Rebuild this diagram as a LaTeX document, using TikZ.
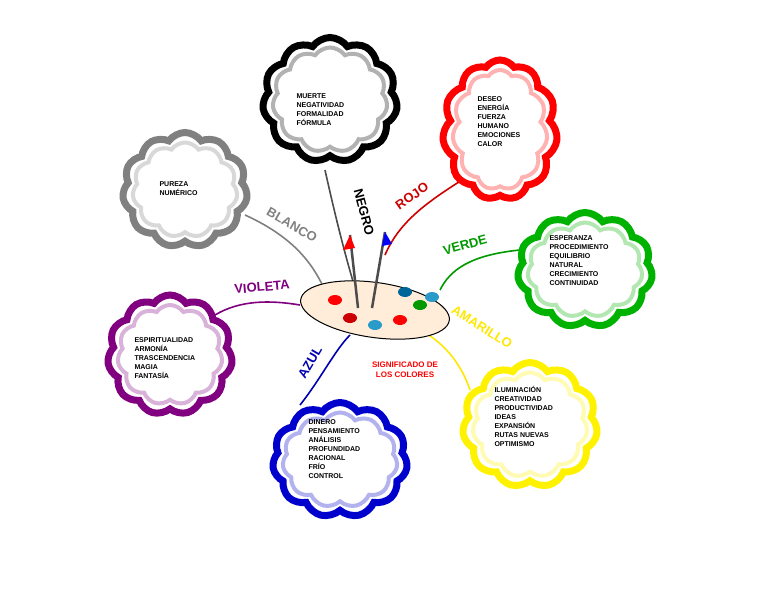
\documentclass[tikz,border=0pt]{standalone}
\usepackage{fontspec}
\setmainfont{Liberation Sans}
\usetikzlibrary{shapes.symbols,shapes.geometric}
\tikzset{
 cl/.style={cloud, cloud puffs=11, cloud puff arc=110, aspect=1, draw=#1, line width=7pt, fill=white, inner sep=0pt},
 clin/.style={cloud, cloud puffs=11, cloud puff arc=110, aspect=1, draw=#1, draw opacity=0.3, line width=4pt, inner sep=0pt},
 tx/.style={font=\fontsize{7}{9}\selectfont\bfseries, align=left},
 br/.style={line width=1.6pt, draw=#1},
 lb/.style={font=\fontsize{13}{13}\selectfont\bfseries, text=#1},
}
\begin{document}
\begin{tikzpicture}[x=1pt,y=-1pt]
\useasboundingbox (0,0) rectangle (768,594);
% branches
\draw[br=black!70] (325,170) .. controls (335,215) and (345,255) .. (355,288);
\draw[br=red!80!black] (470,175) .. controls (430,200) and (400,220) .. (385,255);
\draw[br=gray] (245,215) .. controls (300,240) and (315,270) .. (325,290);
\draw[br=green!60!black] (520,250) .. controls (470,255) and (450,270) .. (440,290);
\draw[br=violet] (215,315) .. controls (240,300) and (270,300) .. (300,305);
\draw[br=yellow!90!orange] (470,390) .. controls (460,360) and (440,340) .. (420,330);
\draw[br=blue!70!black] (300,405) .. controls (320,380) and (335,350) .. (350,335);
% clouds
\foreach \n/\x/\y/\w/\h/\c in {ne/330/100/135/125/black, ro/500/130/115/140/red, bl/185/190/125/115/gray, ve/585/270/135/115/green!70!black, vi/170/355/125/120/violet, am/530/425/135/125/yellow, az/340/460/135/115/blue!80!black}{
 \node[cl=\c, minimum width=\w, minimum height=\h] (\n) at (\x,\y) {};
 \node[clin=\c, minimum width=\w-20, minimum height=\h-20] at (\x,\y) {};
}
\node[tx, anchor=north west] (tne) at (293,90) {MUERTE\\NEGATIVIDAD\\FORMALIDAD\\FÓRMULA};
\node[tx, anchor=north west] (tro) at (474,93) {DESEO\\ENERGÍA\\FUERZA\\HUMANO\\EMOCIONES\\CALOR};
\node[tx, anchor=north west] (tbl) at (156,178) {PUREZA\\NUMÉRICO};
\node[tx, anchor=north west] (tve) at (546,232) {ESPERANZA\\PROCEDIMIENTO\\EQUILIBRIO\\NATURAL\\CRECIMIENTO\\CONTINUIDAD};
\node[tx, anchor=north west] (tvi) at (131,334) {ESPIRITUALIDAD\\ARMONÍA\\TRASCENDENCIA\\MAGIA\\FANTASÍA};
\node[tx, anchor=north west] (tam) at (491,383) {ILUMINACIÓN\\CREATIVIDAD\\PRODUCTIVIDAD\\IDEAS\\EXPANSIÓN\\RUTAS NUEVAS\\OPTIMISMO};
\node[tx, anchor=north west] (taz) at (305,416) {DINERO\\PENSAMIENTO\\ANÁLISIS\\PROFUNDIDAD\\RACIONAL\\FRÍO\\CONTROL};
% palette
\node[ellipse, draw=black, line width=1pt, fill=orange!15, minimum width=150, minimum height=55, rotate=-8] (pal) at (375,310) {};
\foreach \x/\y/\c in {335/300/red, 350/318/red!80!black, 375/325/cyan!60!teal, 400/320/red, 420/305/green!60!black, 432/297/cyan!60!teal, 405/292/green!40!blue}{
 \fill[\c] (\x,\y) ellipse (7 and 5);}
\draw[line width=2.5pt, black!70] (358,308) -- (350,235);
\draw[line width=2.5pt, black!70] (372,308) -- (385,232);
\fill[red] (350,235) -- (343,250) -- (355,248) -- cycle;
\fill[blue] (385,232) -- (382,246) -- (392,244) -- cycle;
% labels
\node[lb=black, rotate=-75] (lne) at (364,212) {NEGRO};
\node[lb=red!80!black, rotate=35] (lro) at (412,196) {ROJO};
\node[lb=gray, rotate=-30] (lbl) at (292,225) {BLANCO};
\node[lb=green!60!black, rotate=15] (lve) at (465,245) {VERDE};
\node[lb=violet, rotate=5] (lvi) at (262,287) {VIOLETA};
\node[lb=yellow!90!orange, rotate=-32] (lam) at (482,327) {AMARILLO};
\node[lb=blue!70!black, rotate=60] (laz) at (310,362) {AZUL};
\node[font=\fontsize{8}{10}\selectfont\bfseries, text=red, align=center] (title) at (405,370) {SIGNIFICADO DE\\LOS COLORES};
\end{tikzpicture}
\end{document}
